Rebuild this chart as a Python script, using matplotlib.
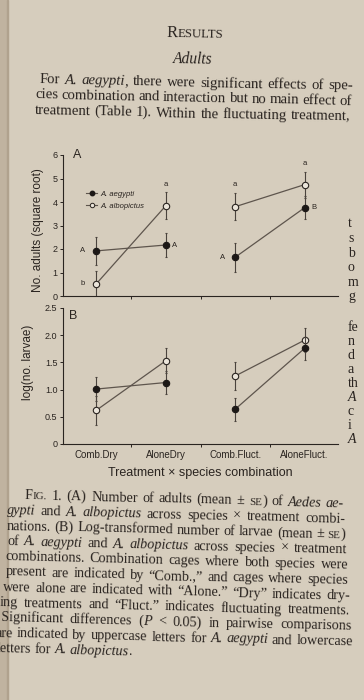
import math
import matplotlib
matplotlib.use("Agg")
import matplotlib.pyplot as plt
from matplotlib.patches import Rectangle
from matplotlib.lines import Line2D

categories = ["Comb.Dry", "AloneDry", "Comb.Fluct.", "AloneFluct."]

# (A) number of adults, square root
adults_aeg = [1.92, 2.17, 1.65, 3.76]
adults_aeg_se = [0.60, 0.50, 0.62, 0.50]
adults_alb = [0.52, 3.84, 3.80, 4.74]
adults_alb_se = [0.55, 0.57, 0.57, 0.55]
adults_aeg_letters = ["A", "A", "A", "B"]
adults_alb_letters = ["b", "a", "a", "a"]

# (B) log number of larvae
larvae_aeg = [1.01, 1.13, 0.64, 1.76]
larvae_aeg_se = [0.22, 0.22, 0.21, 0.21]
larvae_alb = [0.62, 1.53, 1.25, 1.91]
larvae_alb_se = [0.27, 0.23, 0.26, 0.22]

W, H = 364, 700
paper = "#d6cdbd"
ink = "#2a2420"
linec = "#5e554d"

plt.rcParams["font.family"] = ["Liberation Sans", "DejaVu Sans"]
fig = plt.figure(figsize=(W / 100, H / 100), dpi=100, facecolor=paper)
fig.patches.append(Rectangle((0, 0), 7 / W, 1, transform=fig.transFigure, color="#c0b3a0", zorder=0))
fig.patches.append(Rectangle((7 / W, 0), 1.2 / W, 1, transform=fig.transFigure, color="#b0a28e", zorder=0))


def panel(rect, ymax):
    ax = fig.add_axes(rect)
    ax.set_facecolor("none")
    ax.set_xlim(-0.48, 3.48)
    ax.set_ylim(0, ymax)
    for s in ["top", "right"]:
        ax.spines[s].set_visible(False)
    for s in ["left", "bottom"]:
        ax.spines[s].set_color(ink)
        ax.spines[s].set_linewidth(0.8)
    ax.set_xticks([0.5, 1.5, 2.5], minor=True)
    ax.tick_params(which="both", direction="out", length=2.5, width=0.7, colors=ink, labelsize=6.5, pad=1.5)
    return ax


def draw(ax, aeg, aeg_se, alb, alb_se):
    x = list(range(len(categories)))
    for seg in [slice(0, 2), slice(2, 4)]:
        ax.plot(x[seg], alb[seg], color=linec, lw=0.9, zorder=2)
        ax.plot(x[seg], aeg[seg], color=linec, lw=0.9, zorder=2)
    ax.errorbar(x, alb, yerr=alb_se, fmt="o", ms=4.6, mfc="#ebe5da", mec=ink, mew=0.8,
                ecolor="#4a433d", elinewidth=0.8, capsize=1.0, capthick=0.8, zorder=3)
    ax.errorbar(x, aeg, yerr=aeg_se, fmt="o", ms=4.6, mfc="#1c1816", mec="#1c1816", mew=0.8,
                ecolor="#4a433d", elinewidth=0.8, capsize=1.0, capthick=0.8, zorder=4)


# panel A
axA = panel([63 / W, 1 - 296 / H, 275 / W, 141 / H], 6)
draw(axA, adults_aeg, adults_aeg_se, adults_alb, adults_alb_se)
axA.set_yticks(range(7))
axA.set_xticks([])
axA.text(0.035, 1.0, "A", transform=axA.transAxes, fontsize=9, color=ink, va="center", ha="left")

aeg_side = [(-10, 0), (6.5, 0), (-9, 0), (6.5, 0)]
for i, lab in enumerate(adults_aeg_letters):
    axA.annotate(lab, (i, adults_aeg[i]), xytext=aeg_side[i], textcoords="offset points",
                 ha="center", va="center", fontsize=5.5, color=ink)
for i, lab in enumerate(adults_alb_letters):
    if i == 0:
        axA.annotate(lab, (i, adults_alb[i]), xytext=(-10, 0), textcoords="offset points",
                     ha="center", va="center", fontsize=5.5, color=ink)
    else:
        axA.annotate(lab, (i, adults_alb[i] + adults_alb_se[i]), xytext=(0, 6), textcoords="offset points",
                     ha="center", va="center", fontsize=5.5, color=ink)

handles = [Line2D([], [], color=linec, lw=0.8, marker="o", ms=3.2, mfc="#1c1816", mec="#1c1816"),
           Line2D([], [], color=linec, lw=0.8, marker="o", ms=3.2, mfc="#ebe5da", mec=ink, mew=0.7)]
axA.legend(handles, ["A. aegypti", "A. albopictus"], loc="upper left", bbox_to_anchor=(0.083, 0.75),
           frameon=False, borderpad=0, borderaxespad=0, handlelength=1.5, handletextpad=0.4,
           labelspacing=0.6, prop={"size": 5.5, "style": "italic"}, labelcolor=ink)

fig.text(38 / W, 1 - 230 / H, "No. adults (square root)", rotation=90, ha="center", va="center",
         fontsize=8.5, color=ink)

# panel B
axB = panel([63 / W, 1 - 444 / H, 275 / W, 136 / H], 2.5)
draw(axB, larvae_aeg, larvae_aeg_se, larvae_alb, larvae_alb_se)
axB.set_yticks([0, 0.5, 1.0, 1.5, 2.0, 2.5])
axB.set_yticklabels(["0", "0.5", "1.0", "1.5", "2.0", "2.5"])
axB.set_xticks(range(4))
axB.set_xticklabels(categories, fontsize=7, color=ink)
axB.tick_params(axis="x", which="major", length=0, pad=4)
axB.text(0.02, 0.94, "B", transform=axB.transAxes, fontsize=9, color=ink, va="center", ha="left")
fig.text(28 / W, 1 - 362 / H, "log(no. larvae)", rotation=90, ha="center", va="center",
         fontsize=8.5, color=ink)
fig.text(200 / W, 1 - 473 / H, "Treatment \u00d7 species combination", ha="center", va="center",
         fontsize=9, color=ink)

# page text, placed word by word so that lines can be justified
r = fig.canvas.get_renderer()


def split_words(line):
    words = []
    ital = sc = False
    for w in line.split():
        parts, buf = [], ""
        for ch in w:
            if ch in "*^":
                if buf:
                    parts.append((buf, ital, sc))
                buf = ""
                if ch == "*":
                    ital = not ital
                else:
                    sc = not sc
            else:
                buf += ch
        if buf:
            parts.append((buf, ital, sc))
        words.append(parts)
    return words


def text_line(line, x0, y0, size, x1=None, slope=0.0, center=None):
    words = split_words(line)
    rows, widths = [], []
    for w in words:
        row, tot = [], 0
        for txt, it, sc in w:
            t = fig.text(0, 0, txt, fontsize=size * 0.78 if sc else size,
                         fontstyle="italic" if it else "normal", family="Liberation Serif",
                         color=ink, ha="left", va="baseline", rotation_mode="anchor")
            bw = t.get_window_extent(r).width
            if it:
                bw -= size * 0.06
            row.append((t, bw))
            tot += bw
        rows.append(row)
        widths.append(tot)
    space = size * 100 / 72 * 0.25
    if x1 is not None and len(words) > 1:
        gap = (x1 - x0 - sum(widths)) / (len(words) - 1)
    else:
        gap = space
    if center is not None:
        x0 = center - (sum(widths) + gap * (len(words) - 1)) / 2
    ang = -math.degrees(math.atan(slope))
    x = x0
    for row in rows:
        for t, bw in row:
            t.set_position((x / W, 1 - (y0 + slope * (x - x0)) / H))
            t.set_rotation(ang)
            x += bw
        x += gap


text_line("R^ESULTS^", 0, 37, 11.8, center=195, slope=0.02)
text_line("*Adults*", 0, 63, 11.2, center=192, slope=0.02)
body = [
    ("For *A. aegypti*, there were significant effects of spe-", 40, 353, 83),
    ("cies combination and interaction but no main effect of", 35, 352, 98),
    ("treatment (Table 1). Within the fluctuating treatment,", 35, 350, 114),
]
for txt, xa, xb, yb in body:
    text_line(txt, xa, yb, 10.6, x1=xb, slope=0.022)

caption = [
    ("F^IG.^ 1.  (A) Number of adults (mean \u00b1 ^SE^) of *Aedes ae-*", 25, 343),
    ("*gypti* and *A. albopictus* across species \u00d7 treatment combi-", 7, 345),
    ("nations. (B) Log-transformed number of larvae (mean \u00b1 ^SE^)", 7, 345),
    ("of *A. aegypti* and *A. albopictus* across species \u00d7 treatment", 7, 347),
    ("combinations. Combination cages where both species were", 5, 348),
    ("present are indicated by \u201cComb.,\u201d and cages where species", 6, 348),
    ("were alone are indicated with \u201cAlone.\u201d \u201cDry\u201d indicates dry-", 3, 350),
    ("ing treatments and \u201cFluct.\u201d indicates fluctuating treatments.", 0, 350),
    ("Significant differences (*P* < 0.05) in pairwise comparisons", 1, 352),
    ("are indicated by uppercase letters for *A. aegypti* and lowercase", -5, 353),
    ("letters for *A. albopictus*.", -3, None),
]
for k, (txt, xa, xb) in enumerate(caption):
    text_line(txt, xa, 499 + 15.3 * k, 10.2, x1=xb, slope=0.025)

# edge of the next column
right_col = [("t", 227), ("s", 242), ("b", 257), ("o", 271), ("m", 286), ("g", 300),
             ("fe", 331), ("n", 345), ("d", 359), ("a", 373), ("th", 387), ("*A*", 401),
             ("c", 415), ("i", 429), ("*A*", 443)]
for txt, yb in right_col:
    text_line(txt, 348, yb, 10)

fig.savefig("out.png", dpi=100, facecolor=paper)
